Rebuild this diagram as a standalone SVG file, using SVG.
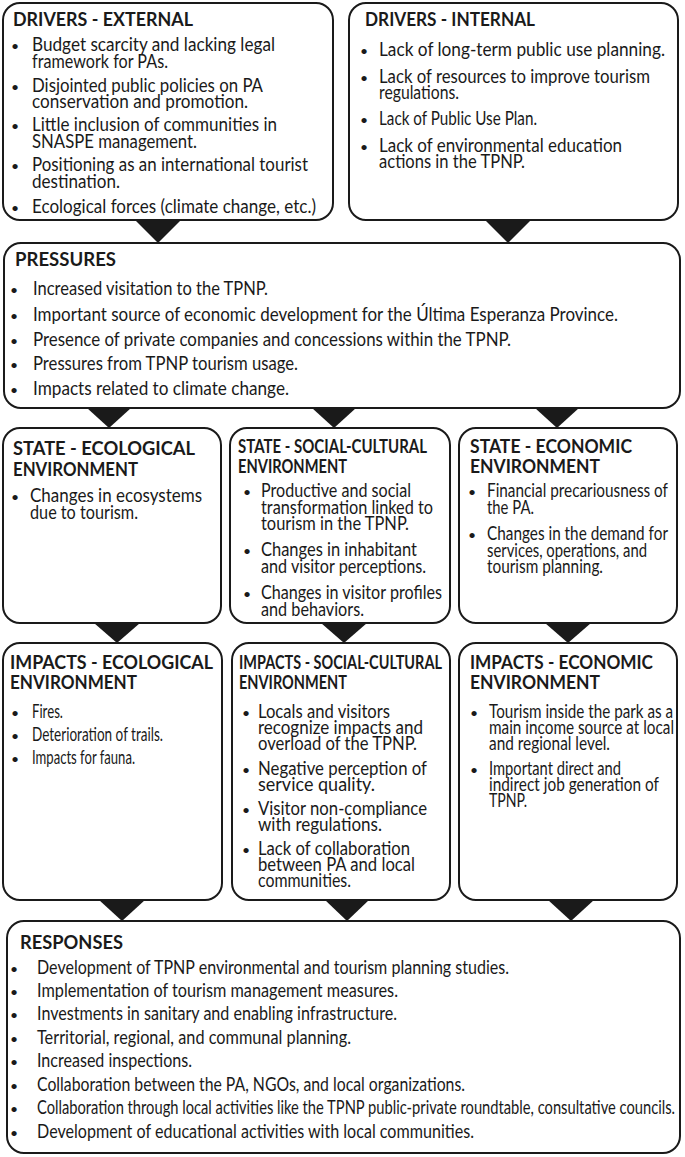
<svg xmlns="http://www.w3.org/2000/svg" width="685" height="1157" viewBox="0 0 685 1157">
<style>
.box{fill:#fff;stroke:#1a1a1a;stroke-width:2}
.tri{fill:#1a1a1a}
text{font-family:Lato,"Open Sans","Liberation Sans",sans-serif;fill:#1a1a1a}
.t{font-weight:700;font-size:19.5px}
.b{font-size:18.5px}
.c{font-size:20px}
.r{font-size:19.5px}
.u{font-size:14px}
</style>
<rect width="685" height="1157" fill="#fff"/>
<g id="connectors">
<polygon class="tri" points="135,220 181,220 158,243"/>
<polygon class="tri" points="485,220 531,220 508,243"/>
<polygon class="tri" points="87,408 131,408 109,428"/>
<polygon class="tri" points="312,408 356,408 334,428"/>
<polygon class="tri" points="535,408 579,408 557,428"/>
<polygon class="tri" points="94,623 140,623 117,643"/>
<polygon class="tri" points="321,623 367,623 344,643"/>
<polygon class="tri" points="545,623 591,623 568,643"/>
<polygon class="tri" points="99,900 145,900 122,921"/>
<polygon class="tri" points="325,900 369,900 347,921"/>
<polygon class="tri" points="548,900 594,900 571,921"/>
</g>
<g id="drivers-external">
<rect class="box" x="3" y="3" width="330" height="217" rx="17"/>
<text class="t" x="13" y="26" textLength="180" lengthAdjust="spacingAndGlyphs">DRIVERS - EXTERNAL</text>
<text class="u" x="11" y="51">•</text><text class="b" x="32" y="51" textLength="243" lengthAdjust="spacingAndGlyphs">Budget scarcity and lacking legal</text>
<text class="b" x="32" y="67.5" textLength="136" lengthAdjust="spacingAndGlyphs">framework for PAs.</text>
<text class="u" x="11" y="92">•</text><text class="b" x="32" y="92" textLength="231" lengthAdjust="spacingAndGlyphs">Disjointed public policies on PA</text>
<text class="b" x="32" y="108" textLength="216" lengthAdjust="spacingAndGlyphs">conservation and promotion.</text>
<text class="u" x="11" y="131">•</text><text class="b" x="32" y="131" textLength="245" lengthAdjust="spacingAndGlyphs">Little inclusion of communities in</text>
<text class="b" x="32" y="148" textLength="165" lengthAdjust="spacingAndGlyphs">SNASPE management.</text>
<text class="u" x="11" y="171">•</text><text class="b" x="32" y="171" textLength="276" lengthAdjust="spacingAndGlyphs">Positioning as an international tourist</text>
<text class="b" x="32" y="188" textLength="88" lengthAdjust="spacingAndGlyphs">destination.</text>
<text class="u" x="11" y="213">•</text><text class="b" x="32" y="213" textLength="284" lengthAdjust="spacingAndGlyphs">Ecological forces (climate change, etc.)</text>
</g>
<g id="drivers-internal">
<rect class="box" x="349" y="3" width="329" height="217" rx="17"/>
<text class="t" x="365" y="26" textLength="170" lengthAdjust="spacingAndGlyphs">DRIVERS - INTERNAL</text>
<text class="u" x="360" y="56">•</text><text class="b" x="379" y="56" textLength="286" lengthAdjust="spacingAndGlyphs">Lack of long-term public use planning.</text>
<text class="u" x="360" y="82.5">•</text><text class="b" x="379" y="82.5" textLength="271" lengthAdjust="spacingAndGlyphs">Lack of resources to improve tourism</text>
<text class="b" x="379" y="99" textLength="80" lengthAdjust="spacingAndGlyphs">regulations.</text>
<text class="u" x="360" y="125">•</text><text class="b" x="379" y="125" textLength="158" lengthAdjust="spacingAndGlyphs">Lack of Public Use Plan.</text>
<text class="u" x="360" y="151.5">•</text><text class="b" x="379" y="151.5" textLength="243" lengthAdjust="spacingAndGlyphs">Lack of environmental education</text>
<text class="b" x="379" y="168" textLength="146" lengthAdjust="spacingAndGlyphs">actions in the TPNP.</text>
</g>
<g id="pressures">
<rect class="box" x="4" y="243" width="676" height="165" rx="17"/>
<text class="t" x="15" y="266" textLength="101" lengthAdjust="spacingAndGlyphs">PRESSURES</text>
<text class="u" x="10" y="295">•</text><text class="c" x="33" y="295" textLength="235" lengthAdjust="spacingAndGlyphs">Increased visitation to the TPNP.</text>
<text class="u" x="10" y="321">•</text><text class="c" x="33" y="321" textLength="585" lengthAdjust="spacingAndGlyphs">Important source of economic development for the Última Esperanza Province.</text>
<text class="u" x="10" y="346">•</text><text class="c" x="33" y="346" textLength="478" lengthAdjust="spacingAndGlyphs">Presence of private companies and concessions within the TPNP.</text>
<text class="u" x="10" y="370">•</text><text class="c" x="33" y="370" textLength="265" lengthAdjust="spacingAndGlyphs">Pressures from TPNP tourism usage.</text>
<text class="u" x="10" y="395">•</text><text class="c" x="33" y="395" textLength="256" lengthAdjust="spacingAndGlyphs">Impacts related to climate change.</text>
</g>
<g id="state-ecological">
<rect class="box" x="3" y="428" width="218" height="195" rx="17"/>
<text class="t" x="13" y="455" textLength="182" lengthAdjust="spacingAndGlyphs">STATE - ECOLOGICAL</text>
<text class="t" x="13" y="476" textLength="125" lengthAdjust="spacingAndGlyphs">ENVIRONMENT</text>
<text class="u" x="11" y="502">•</text><text class="b" x="30" y="502" textLength="172" lengthAdjust="spacingAndGlyphs">Changes in ecosystems</text>
<text class="b" x="30" y="518.5" textLength="108" lengthAdjust="spacingAndGlyphs">due to tourism.</text>
</g>
<g id="state-social-cultural">
<rect class="box" x="230" y="428" width="220" height="195" rx="17"/>
<text class="t" x="238" y="453" textLength="189" lengthAdjust="spacingAndGlyphs">STATE - SOCIAL-CULTURAL</text>
<text class="t" x="238" y="473" textLength="109" lengthAdjust="spacingAndGlyphs">ENVIRONMENT</text>
<text class="u" x="243" y="497">•</text><text class="b" x="261" y="497" textLength="150" lengthAdjust="spacingAndGlyphs">Productive and social</text>
<text class="b" x="261" y="513.5" textLength="172" lengthAdjust="spacingAndGlyphs">transformation linked to</text>
<text class="b" x="261" y="530" textLength="148" lengthAdjust="spacingAndGlyphs">tourism in the TPNP.</text>
<text class="u" x="243" y="556">•</text><text class="b" x="261" y="556" textLength="156" lengthAdjust="spacingAndGlyphs">Changes in inhabitant</text>
<text class="b" x="261" y="572.5" textLength="165" lengthAdjust="spacingAndGlyphs">and visitor perceptions.</text>
<text class="u" x="243" y="599">•</text><text class="b" x="261" y="599" textLength="181" lengthAdjust="spacingAndGlyphs">Changes in visitor profiles</text>
<text class="b" x="261" y="615.5" textLength="103" lengthAdjust="spacingAndGlyphs">and behaviors.</text>
</g>
<g id="state-economic">
<rect class="box" x="459" y="428" width="218" height="195" rx="17"/>
<text class="t" x="470" y="453" textLength="162" lengthAdjust="spacingAndGlyphs">STATE - ECONOMIC</text>
<text class="t" x="470" y="473" textLength="130" lengthAdjust="spacingAndGlyphs">ENVIRONMENT</text>
<text class="u" x="468" y="497">•</text><text class="b" x="487" y="497" textLength="181" lengthAdjust="spacingAndGlyphs">Financial precariousness of</text>
<text class="b" x="487" y="513.5" textLength="47" lengthAdjust="spacingAndGlyphs">the PA.</text>
<text class="u" x="468" y="540">•</text><text class="b" x="487" y="540" textLength="181" lengthAdjust="spacingAndGlyphs">Changes in the demand for</text>
<text class="b" x="487" y="556.5" textLength="160" lengthAdjust="spacingAndGlyphs">services, operations, and</text>
<text class="b" x="487" y="573" textLength="116" lengthAdjust="spacingAndGlyphs">tourism planning.</text>
</g>
<g id="impacts-ecological">
<rect class="box" x="3" y="643" width="219" height="257" rx="17"/>
<text class="t" x="10" y="669" textLength="203" lengthAdjust="spacingAndGlyphs">IMPACTS - ECOLOGICAL</text>
<text class="t" x="10" y="689" textLength="127" lengthAdjust="spacingAndGlyphs">ENVIRONMENT</text>
<text class="u" x="11" y="718">•</text><text class="c" x="32" y="718" textLength="31" lengthAdjust="spacingAndGlyphs">Fires.</text>
<text class="u" x="11" y="741">•</text><text class="c" x="32" y="741" textLength="131" lengthAdjust="spacingAndGlyphs">Deterioration of trails.</text>
<text class="u" x="11" y="764">•</text><text class="c" x="32" y="764" textLength="103" lengthAdjust="spacingAndGlyphs">Impacts for fauna.</text>
</g>
<g id="impacts-social-cultural">
<rect class="box" x="232" y="643" width="218" height="257" rx="17"/>
<text class="t" x="239" y="669" textLength="203" lengthAdjust="spacingAndGlyphs">IMPACTS - SOCIAL-CULTURAL</text>
<text class="t" x="239" y="689" textLength="108" lengthAdjust="spacingAndGlyphs">ENVIRONMENT</text>
<text class="u" x="242" y="718">•</text><text class="b" x="258" y="718" textLength="132" lengthAdjust="spacingAndGlyphs">Locals and visitors</text>
<text class="b" x="258" y="734" textLength="165" lengthAdjust="spacingAndGlyphs">recognize impacts and</text>
<text class="b" x="258" y="750" textLength="159" lengthAdjust="spacingAndGlyphs">overload of the TPNP.</text>
<text class="u" x="242" y="775">•</text><text class="b" x="258" y="775" textLength="169" lengthAdjust="spacingAndGlyphs">Negative perception of</text>
<text class="b" x="258" y="791" textLength="117" lengthAdjust="spacingAndGlyphs">service quality.</text>
<text class="u" x="242" y="815">•</text><text class="b" x="258" y="815" textLength="169" lengthAdjust="spacingAndGlyphs">Visitor non-compliance</text>
<text class="b" x="258" y="831" textLength="124" lengthAdjust="spacingAndGlyphs">with regulations.</text>
<text class="u" x="242" y="855">•</text><text class="b" x="258" y="855" textLength="152" lengthAdjust="spacingAndGlyphs">Lack of collaboration</text>
<text class="b" x="258" y="871" textLength="157" lengthAdjust="spacingAndGlyphs">between PA and local</text>
<text class="b" x="258" y="887" textLength="93" lengthAdjust="spacingAndGlyphs">communities.</text>
</g>
<g id="impacts-economic">
<rect class="box" x="459" y="643" width="218" height="257" rx="17"/>
<text class="t" x="470" y="669" textLength="183" lengthAdjust="spacingAndGlyphs">IMPACTS - ECONOMIC</text>
<text class="t" x="470" y="689" textLength="130" lengthAdjust="spacingAndGlyphs">ENVIRONMENT</text>
<text class="u" x="470" y="718">•</text><text class="b" x="489" y="718" textLength="184" lengthAdjust="spacingAndGlyphs">Tourism inside the park as a</text>
<text class="b" x="489" y="734" textLength="185" lengthAdjust="spacingAndGlyphs">main income source at local</text>
<text class="b" x="489" y="750" textLength="121" lengthAdjust="spacingAndGlyphs">and regional level.</text>
<text class="u" x="470" y="775">•</text><text class="b" x="489" y="775" textLength="132" lengthAdjust="spacingAndGlyphs">Important direct and</text>
<text class="b" x="489" y="791" textLength="170" lengthAdjust="spacingAndGlyphs">indirect job generation of</text>
<text class="b" x="489" y="807" textLength="38" lengthAdjust="spacingAndGlyphs">TPNP.</text>
</g>
<g id="responses">
<rect class="box" x="7" y="921" width="673" height="232" rx="17"/>
<text class="t" x="20" y="949" textLength="103" lengthAdjust="spacingAndGlyphs">RESPONSES</text>
<text class="u" x="10" y="974">•</text><text class="r" x="37" y="974" textLength="472" lengthAdjust="spacingAndGlyphs">Development of TPNP environmental and tourism planning studies.</text>
<text class="u" x="10" y="997">•</text><text class="r" x="37" y="997" textLength="361" lengthAdjust="spacingAndGlyphs">Implementation of tourism management measures.</text>
<text class="u" x="10" y="1020">•</text><text class="r" x="37" y="1020" textLength="360" lengthAdjust="spacingAndGlyphs">Investments in sanitary and enabling infrastructure.</text>
<text class="u" x="10" y="1044">•</text><text class="r" x="37" y="1044" textLength="314" lengthAdjust="spacingAndGlyphs">Territorial, regional, and communal planning.</text>
<text class="u" x="10" y="1067">•</text><text class="r" x="37" y="1067" textLength="155" lengthAdjust="spacingAndGlyphs">Increased inspections.</text>
<text class="u" x="10" y="1091">•</text><text class="r" x="37" y="1091" textLength="428" lengthAdjust="spacingAndGlyphs">Collaboration between the PA, NGOs, and local organizations.</text>
<text class="u" x="10" y="1114">•</text><text class="r" x="37" y="1114" textLength="638" lengthAdjust="spacingAndGlyphs">Collaboration through local activities like the TPNP public-private roundtable, consultative councils.</text>
<text class="u" x="10" y="1138">•</text><text class="r" x="37" y="1138" textLength="437" lengthAdjust="spacingAndGlyphs">Development of educational activities with local communities.</text>
</g>
</svg>
